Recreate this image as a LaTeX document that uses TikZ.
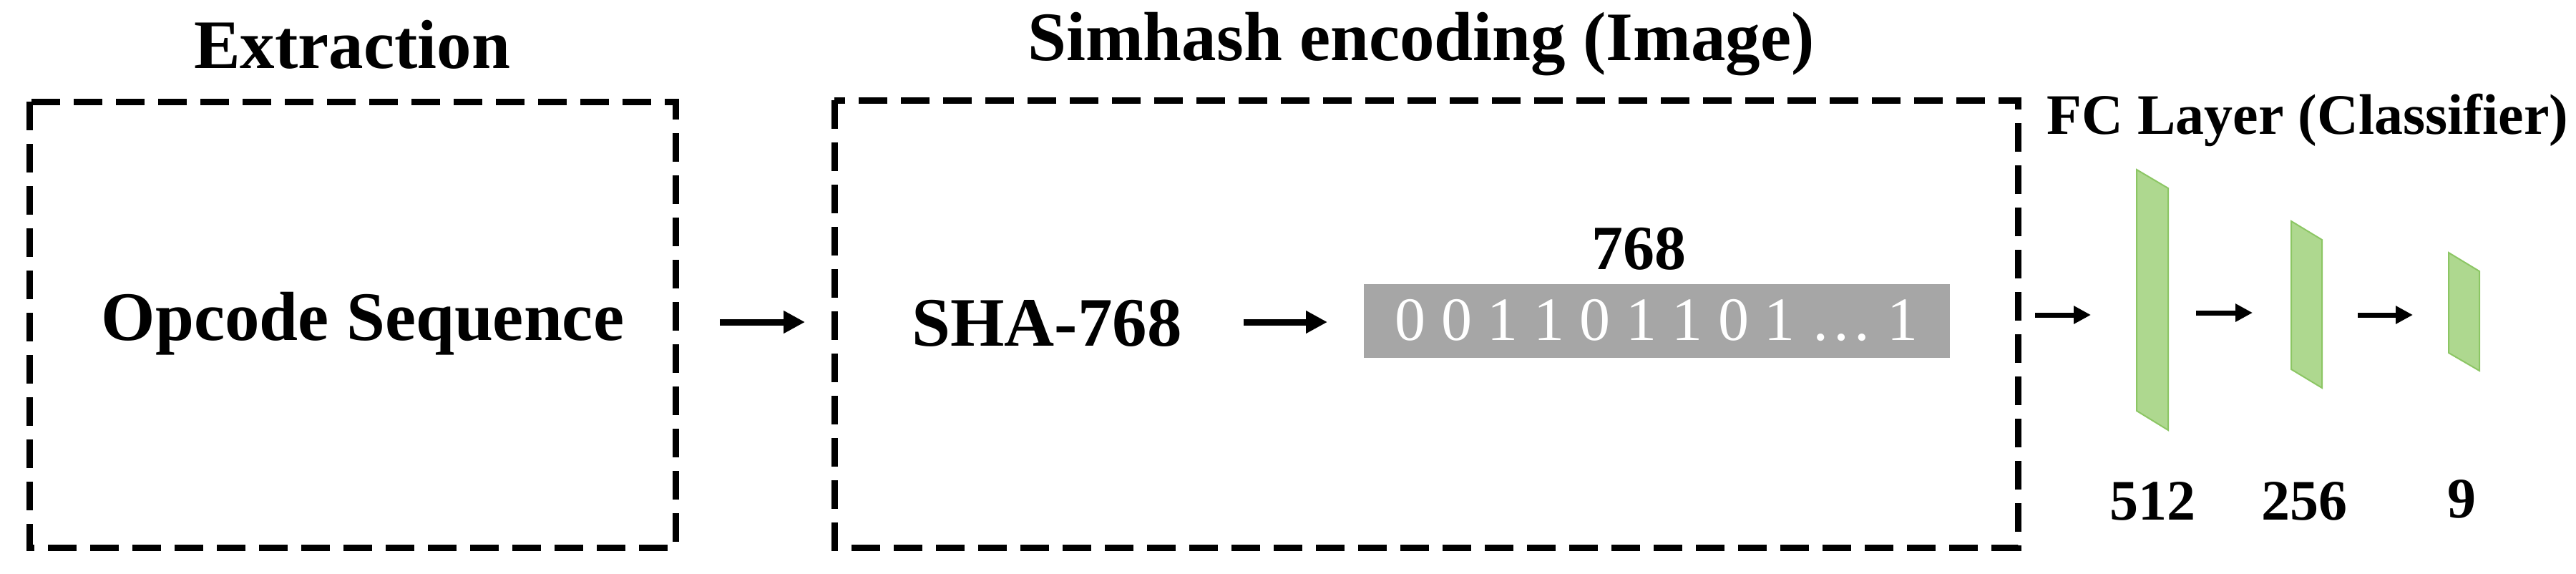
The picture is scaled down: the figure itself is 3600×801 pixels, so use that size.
\documentclass[tikz,border=0pt]{standalone}
\usepackage{fontspec}
\setmainfont{Liberation Serif}
\usetikzlibrary{arrows.meta}
\definecolor{barg}{RGB}{166,166,166}
\definecolor{lfill}{RGB}{174,216,143}
\definecolor{ledge}{RGB}{140,198,100}
\tikzset{
 dbox/.style={draw, line width=9pt, dash pattern=on 40pt off 19pt},
 arr/.style={line width=9pt, -{Triangle[length=30pt,width=30pt]}},
 ttl/.style={font=\fontsize{97}{100}\selectfont\bfseries, inner sep=0},
 lbl/.style={font=\fontsize{80}{90}\selectfont\bfseries, inner sep=0},
 layer/.style={fill=lfill, draw=ledge, line width=2pt},
 sarr/.style={line width=7pt, -{Triangle[length=24pt,width=24pt]}},
}
\begin{document}
\begin{tikzpicture}[x=1pt,y=-1pt]
\useasboundingbox (0,0) rectangle (3600,801);
% boxes
\draw[dbox] (41,142) rectangle (944,765);
\draw[dbox] (1166,140) rectangle (2820,765);
\node[ttl] (t1) at (492,62) {Extraction};
\node[ttl] (t2) at (1986,62) {Simhash encoding (Image)};
\node[ttl] (ops) at (507,452) {Opcode Sequence};
\node[ttl] (sha) at (1463,452) {SHA-768};
\node[fill=barg, minimum width=819pt, minimum height=103pt, inner sep=0,
      font=\fontsize{86}{90}\selectfont, text=white] (bar) at (2315,448) {0 0 1 1 0 1 1 0 1 \dots\ 1};
\node[ttl, font=\fontsize{88}{90}\selectfont\bfseries] (n768) at (2290,348) {768};
% arrows
\coordinate (a1s) at (1006,450); \coordinate (a1e) at (1125,450);
\draw[arr] (a1s) -- (a1e);
\coordinate (a2s) at (1738,450); \coordinate (a2e) at (1855,450);
\draw[arr] (a2s) -- (a2e);
% FC layers
\node[lbl] (fc) at (3225,168) {FC Layer (Classifier)};
\draw[layer] (2986,237) -- (3030,263) -- (3030,601) -- (2986,574) -- cycle;
\draw[layer] (3202,309) -- (3245,335) -- (3245,542) -- (3202,516) -- cycle;
\draw[layer] (3422,353) -- (3465,379) -- (3465,518) -- (3422,493) -- cycle;
\coordinate (b1s) at (2844,440); \coordinate (b1e) at (2922,440);
\coordinate (b2s) at (3069,437); \coordinate (b2e) at (3148,437);
\coordinate (b3s) at (3295,440); \coordinate (b3e) at (3372,440);
\draw[sarr] (b1s) -- (b1e);
\draw[sarr] (b2s) -- (b2e);
\draw[sarr] (b3s) -- (b3e);
\node[lbl] (l1) at (3008,700) {512};
\node[lbl] (l2) at (3220,700) {256};
\node[lbl] (l3) at (3440,697) {9};
\end{tikzpicture}
\end{document}
